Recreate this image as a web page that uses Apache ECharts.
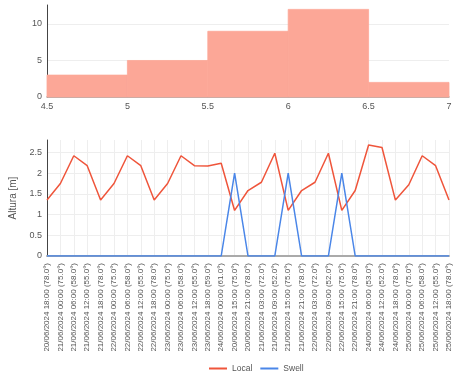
<!DOCTYPE html>
<html>
<head>
<meta charset="utf-8">
<script src="https://cdn.jsdelivr.net/npm/echarts@6/dist/echarts.min.js"></script>
<style>html,body{margin:0;padding:0;background:#fff;}#c{width:474px;height:378px;}</style>
</head>
<body>
<div id="c"></div>
<script>
const categories = [
  "20/06/2024 18:00 (78.0°)","21/06/2024 00:00 (75.0°)","21/06/2024 06:00 (58.0°)","21/06/2024 12:00 (55.0°)",
  "21/06/2024 18:00 (78.0°)","22/06/2024 00:00 (75.0°)","22/06/2024 06:00 (58.0°)","22/06/2024 12:00 (55.0°)",
  "22/06/2024 18:00 (78.0°)","23/06/2024 00:00 (75.0°)","23/06/2024 06:00 (58.0°)","23/06/2024 12:00 (55.0°)",
  "23/06/2024 18:00 (59.0°)","24/06/2024 00:00 (61.0°)","20/06/2024 15:00 (75.0°)","20/06/2024 21:00 (78.0°)",
  "21/06/2024 03:00 (72.0°)","21/06/2024 09:00 (52.0°)","21/06/2024 15:00 (75.0°)","21/06/2024 21:00 (78.0°)",
  "22/06/2024 03:00 (72.0°)","22/06/2024 09:00 (52.0°)","22/06/2024 15:00 (75.0°)","22/06/2024 21:00 (78.0°)",
  "24/06/2024 06:00 (53.0°)","24/06/2024 12:00 (52.0°)","24/06/2024 18:00 (78.0°)","25/06/2024 00:00 (75.0°)",
  "25/06/2024 06:00 (58.0°)","25/06/2024 12:00 (55.0°)","25/06/2024 18:00 (78.0°)"
];
const localVals = [1.35,1.75,2.42,2.18,1.35,1.75,2.42,2.18,1.35,1.75,2.42,2.18,2.17,2.24,1.1,1.58,1.78,2.48,1.1,1.58,1.78,2.48,1.1,1.58,2.68,2.62,1.35,1.72,2.42,2.18,1.35];
const swellVals = [0,0,0,0,0,0,0,0,0,0,0,0,0,0,2,0,0,0,2,0,0,0,2,0,0,0,0,0,0,0,0];
const binStart = [4.5,5,5.5,6,6.5];
const binEnd = [5,5.5,6,6.5,7];
const binCounts = [3,5,9,12,2];

const histData = binStart.map((s,i)=>[s, binEnd[i], binCounts[i]]);
const chart = echarts.init(document.getElementById('c'), null, {renderer:'canvas'});
const lblColor = '#555';
chart.setOption({
  animation:false,
  backgroundColor:'#fff',
  textStyle:{fontFamily:'Liberation Sans, Arial, sans-serif'},
  legend:{
    data:['Local','Swell'], bottom:0, left:204,
    icon:'rect', itemWidth:18, itemHeight:2, itemGap:8,
    textStyle:{fontSize:8.5, color:lblColor}
  },
  grid:[
    {left:47, right:25, top:5, height:92},
    {left:47, right:25, top:140, height:116}
  ],
  xAxis:[
    {type:'value', gridIndex:0, min:4.5, max:7, interval:0.5,
     axisLine:{show:true, lineStyle:{color:'#999', width:1.5}},
     axisTick:{show:false},
     axisLabel:{fontSize:9, color:lblColor, margin:5},
     splitLine:{show:false}},
    {type:'category', gridIndex:1, data:categories, boundaryGap:false,
     axisLine:{show:true, onZero:true, lineStyle:{color:'#aaa', width:2}},
     axisTick:{show:false},
     axisLabel:{rotate:90, fontSize:8, color:lblColor, interval:0, margin:7},
     splitLine:{show:true, interval:0, lineStyle:{color:'#eee', width:1}}}
  ],
  yAxis:[
    {type:'value', gridIndex:0, min:0, max:12.6, interval:5,
     axisLine:{show:true, lineStyle:{color:'#444'}},
     axisTick:{show:false},
     axisLabel:{fontSize:9, color:lblColor, margin:5, showMaxLabel:false},
     splitLine:{show:true, showMaxLine:false, lineStyle:{color:'#eee'}}},
    {type:'value', gridIndex:1, min:0, max:2.8, interval:0.5,
     name:'Altura [m]', nameLocation:'middle', nameGap:16, nameRotate:90,
     nameTextStyle:{fontSize:10, color:lblColor},
     axisLine:{show:true, lineStyle:{color:'#444'}},
     axisTick:{show:false},
     axisLabel:{fontSize:9, color:lblColor, margin:5, showMaxLabel:false},
     splitLine:{show:true, showMaxLine:false, lineStyle:{color:'#eee'}}}
  ],
  series:[
    {type:'custom', xAxisIndex:0, yAxisIndex:0, data:histData,
     encode:{x:[0,1], y:2},
     renderItem:function(params, api){
       const p0 = api.coord([api.value(0), api.value(2)]);
       const p1 = api.coord([api.value(1), 0]);
       return {type:'rect', shape:{x:p0[0], y:p0[1], width:p1[0]-p0[0], height:p1[1]-p0[1]},
               style:{fill:'#fca797', stroke:'#fca797', lineWidth:0.8}};
     }},
    {name:'Local', type:'line', xAxisIndex:1, yAxisIndex:1, data:localVals,
     showSymbol:false, lineStyle:{color:'#ef553b', width:1.5}, itemStyle:{color:'#ef553b'}},
    {name:'Swell', type:'line', xAxisIndex:1, yAxisIndex:1, data:swellVals,
     showSymbol:false, lineStyle:{color:'#4a86e8', width:1.5}, itemStyle:{color:'#4a86e8'}}
  ]
});
</script>
</body>
</html>
